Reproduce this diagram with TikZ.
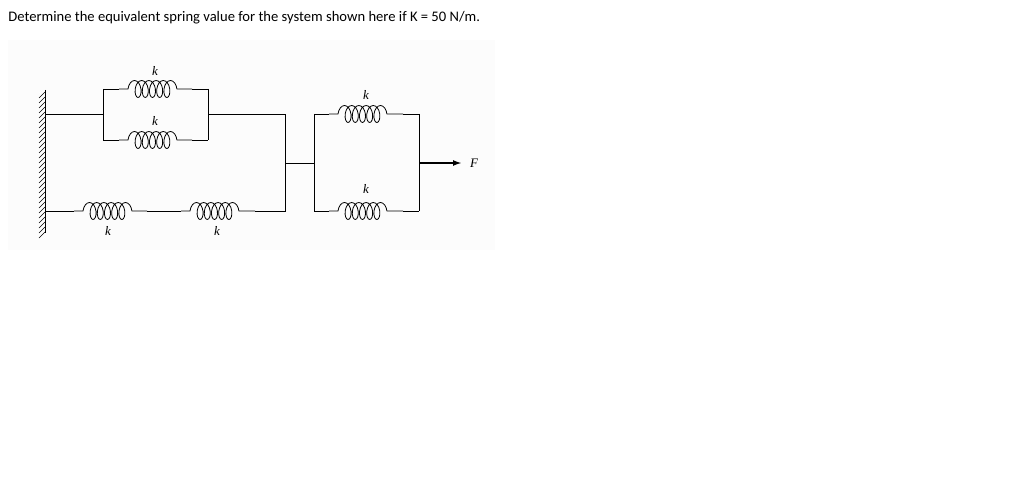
\documentclass[tikz,border=0pt]{standalone}
\usepackage{fontspec}
\setmainfont{Liberation Serif}
\newfontfamily\calib{Carlito}
\usetikzlibrary{decorations.pathmorphing,arrows.meta}
\begin{document}
\begin{tikzpicture}[x=1pt,y=-1pt,line width=0.8pt,
  spr/.style={decorate,decoration={coil,aspect=0.55,segment length=7.2pt,amplitude=8.5pt,pre length=9pt,post length=9pt}},
  lab/.style={font=\itshape\fontsize{13}{13}\selectfont,inner sep=0pt}]
\useasboundingbox (0,0) rectangle (1024,500);
\fill[gray!2.5] (8,40) rectangle (495,250);
\node[anchor=west,inner sep=0pt,font=\calib\fontsize{14.6}{14}\selectfont] (title) at (8,18) {Determine the equivalent spring value for the system shown here if K = 50 N/m.};
% wall
\coordinate (w1) at (45,90); \coordinate (w2) at (45,233);
\draw (w1) -- (w2);
\foreach \y in {92,97,...,232} \draw[line width=0.5pt] (45,\y) -- (39,\y+6);
% coordinates
\coordinate (a) at (45,114); \coordinate (b) at (103,114);
\coordinate (bt) at (103,89); \coordinate (bb) at (103,140);
\coordinate (ct) at (208,89); \coordinate (cb) at (208,140);
\coordinate (c) at (208,114); \coordinate (d) at (285,114);
\coordinate (e) at (285,211); \coordinate (f) at (45,211);
\coordinate (s1) at (74,211); \coordinate (s1e) at (147,211);
\coordinate (s2) at (181,211); \coordinate (s2e) at (255,211);
\coordinate (m) at (285,163); \coordinate (n) at (314,163);
\coordinate (rt) at (314,114); \coordinate (rb) at (314,211);
\coordinate (qt) at (419,114); \coordinate (qb) at (419,211);
\coordinate (q) at (419,163); \coordinate (ar) at (462,163);
\coordinate (p1) at (119,89); \coordinate (p1e) at (192,89);
\coordinate (p2) at (119,140); \coordinate (p2e) at (192,140);
\coordinate (r1) at (329,114); \coordinate (r1e) at (403,114);
\coordinate (r2) at (329,211); \coordinate (r2e) at (403,211);
\draw (a) -- (b) (bt) -- (bb) (ct) -- (cb) (c) -- (d) -- (e) -- (s2e);
\draw (bt) -- (p1) (p1e) -- (ct) (bb) -- (p2) (p2e) -- (cb);
\draw[spr] (p1) -- (p1e); \draw[spr] (p2) -- (p2e);
\draw (f) -- (s1) (s1e) -- (s2);
\draw[spr] (s1) -- (s1e); \draw[spr] (s2) -- (s2e);
\draw (m) -- (n) (rt) -- (rb) (qt) -- (qb);
\draw (rt) -- (r1) (r1e) -- (qt) (rb) -- (r2) (r2e) -- (qb);
\draw[spr] (r1) -- (r1e); \draw[spr] (r2) -- (r2e);
\draw[line width=2pt,-{Latex[length=9pt,width=6pt]}] (q) -- (ar);
\node[lab] (F) at (474,163) {F};
\node[lab] (k1) at (155,71) {k};
\node[lab] (k2) at (155,121) {k};
\node[lab] (k3) at (366,95) {k};
\node[lab] (k4) at (366,189) {k};
\node[lab] (k5) at (108,231) {k};
\node[lab] (k6) at (217,231) {k};
\end{tikzpicture}
\end{document}
